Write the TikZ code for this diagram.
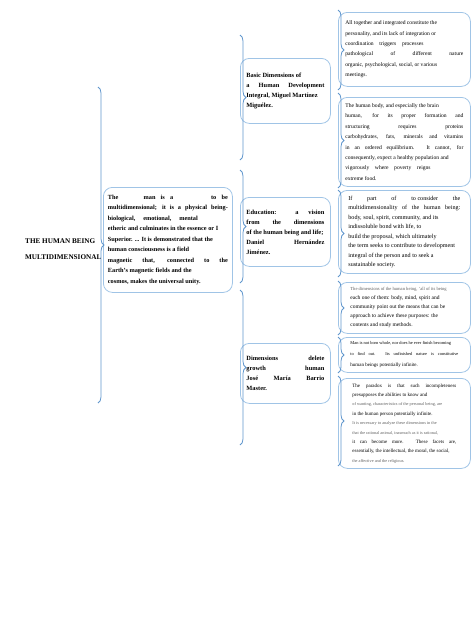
\documentclass[tikz,border=0pt]{standalone}
\usepackage{fontspec}
\setmainfont{Liberation Serif}
\usepackage{xcolor}
\usetikzlibrary{decorations.pathreplacing}
\definecolor{boxblue}{RGB}{160,196,230}
\definecolor{braceblue}{RGB}{96,150,205}
\definecolor{lighttext}{RGB}{95,95,95}
\tikzset{
  lbrace/.style={draw=braceblue, line width=0.8pt, decorate, decoration={brace, mirror, amplitude=6pt, aspect=0.5}},
  bbox/.style={draw=boxblue, line width=0.8pt, rounded corners=9pt, anchor=north west, align=justify, inner ysep=3pt},
  corebox/.style={bbox, text width=120pt, inner xsep=4.5pt, font=\bfseries\fontsize{6.3}{10.5}\selectfont},
  midbox/.style={bbox, text width=78pt, inner xsep=6pt, font=\bfseries\fontsize{6.4}{10}\selectfont},
  leafbox/.style={bbox, text width=118pt, inner xsep=7pt, font=\fontsize{5.6}{10.4}\selectfont},
}
\begin{document}
\begin{tikzpicture}[x=1pt,y=1pt,yscale=-1,xscale=1]
        \useasboundingbox (0,0) rectangle (474,632);
        % Text Node
        \node (title) [anchor=west, align=left, inner sep=0pt, font=\bfseries\fontsize{7.2}{16}\selectfont] at (25,249) {THE HUMAN BEING\\MULTIDIMENSIONAL};
        % Text Node
        \node (core) [corebox, minimum height=105pt] at (103,187) {The\hspace{4em}man is a\hspace{6em}to be\linebreak multidimensional; it is a physical being-\linebreak biological,\quad\ emotional,\quad\ mental\newline etheric and culminates in the essence or I\newline Superior. ... It is demonstrated that the\newline human consciousness is a field\newline magnetic that, connected to the\linebreak Earth's magnetic fields and the\newline cosmos, makes the universal unity.};
        % Text Node
        \node (m1) [midbox, minimum height=65pt] at (240,58) {Basic Dimensions of\newline a Human Development\linebreak Integral, Miguel Martínez\newline Miguélez.};
        % Text Node
        \node (m2) [midbox, minimum height=69pt] at (240,197) {Education: a vision\linebreak from the dimensions\linebreak of the human being and life;\newline Daniel Hernández\linebreak Jiménez.};
        % Text Node
        \node (m3) [midbox, minimum height=60pt] at (240,343) {Dimensions delete\linebreak growth human\linebreak José María Barrio\linebreak Master.};
        % Text Node
        \node (r1) [leafbox, minimum height=74pt] at (338,12) {All together and integrated constitute the\newline personality, and its lack of integration or\newline coordination\quad triggers\quad processes\newline pathological\hfill of\hfill different\hfill nature\newline organic, psychological, social, or various\newline meetings.};
        % Text Node
        \node (r2) [leafbox, minimum height=89pt] at (338,97) {The human body, and especially the brain\newline human, for its proper formation and\linebreak structuring\hfill requires\hfill proteins\newline carbohydrates, fats, minerals and vitamins\linebreak in an ordered equilibrium. It cannot, for\linebreak consequently, expect a healthy population and\newline vigorously\quad where\quad poverty\quad reigns\newline extreme food.};
        % Text Node
        \node (r3) [leafbox, text width=112pt, inner xsep=10pt, minimum height=83pt, font=\fontsize{6.1}{9.5}\selectfont] at (338,190) {If\hfill part\hfill of\hfill to consider\hfill the\newline multidimensionality of the human being:\linebreak body, soul, spirit, community, and its\newline indissoluble bond with life, to\newline build the proposal, which ultimately\newline the term seeks to contribute to development\newline integral of the person and to seek a\newline sustainable society.};
        % Text Node
        \node (r4) [leafbox, text width=108pt, inner xsep=12pt, minimum height=51pt, font=\fontsize{5.5}{9}\selectfont] at (338,282) {{\fontsize{4.6}{9}\selectfont\color{lighttext}The dimensions of the human being, 'all of its being}\newline each one of them: body, mind, spirit and\newline community point out the means that can be\newline approach to achieve these purposes: the\newline contents and study methods.};
        % Text Node
        \node (r5) [leafbox, text width=108pt, inner xsep=12pt, minimum height=35pt, font=\fontsize{4.4}{11}\selectfont] at (338,337) {Man is not born whole, nor does he ever finish becoming\newline to find out. Its unfinished nature is constitutive\linebreak {\fontsize{5.0}{11}\selectfont human beings potentially infinite.}};
        % Text Node
        \node (r6) [leafbox, text width=104pt, inner xsep=14pt, minimum height=90pt, font=\fontsize{5.0}{9.4}\selectfont] at (338,378) {The paradox is that such incompleteness\linebreak presupposes the abilities to know and\newline {\fontsize{4.3}{9.4}\selectfont\color{lighttext}of wanting, characteristics of the personal being, are}\newline in the human person potentially infinite.\newline {\fontsize{4.3}{9.4}\selectfont\color{lighttext}It is necessary to analyze these dimensions in the}\newline {\fontsize{4.3}{9.4}\selectfont\color{lighttext}that the rational animal, inasmuch as it is rational,}\newline it can become more. These facets are,\linebreak essentially, the intellectual, the moral, the social,\newline {\fontsize{4.3}{9.4}\selectfont\color{lighttext}the affective and the religious.}};
        %Curly Braces
        \coordinate (b0a) at (98,403);
        \coordinate (b0b) at (98,87);
        \draw [lbrace] (b0a) -- (b0b);
        \coordinate (b1a) at (240,160);
        \coordinate (b1b) at (240,35);
        \draw [lbrace] (b1a) -- (b1b);
        \coordinate (b2a) at (240,283);
        \coordinate (b2b) at (240,170);
        \draw [lbrace] (b2a) -- (b2b);
        \coordinate (b3a) at (240,445);
        \coordinate (b3b) at (240,290);
        \draw [lbrace] (b3a) -- (b3b);
        \coordinate (c1a) at (338,90);
        \coordinate (c1b) at (338,10);
        \draw [lbrace] (c1a) -- (c1b);
        \coordinate (c2a) at (338,188);
        \coordinate (c2b) at (338,93);
        \draw [lbrace] (c2a) -- (c2b);
        \coordinate (c3a) at (338,277);
        \coordinate (c3b) at (338,190);
        \draw [lbrace] (c3a) -- (c3b);
        \coordinate (c4a) at (338,335);
        \coordinate (c4b) at (338,281);
        \draw [lbrace] (c4a) -- (c4b);
        \coordinate (c5a) at (338,373);
        \coordinate (c5b) at (338,337);
        \draw [lbrace] (c5a) -- (c5b);
        \coordinate (c6a) at (338,466);
        \coordinate (c6b) at (338,376);
        \draw [lbrace] (c6a) -- (c6b);
\end{tikzpicture}
\end{document}
